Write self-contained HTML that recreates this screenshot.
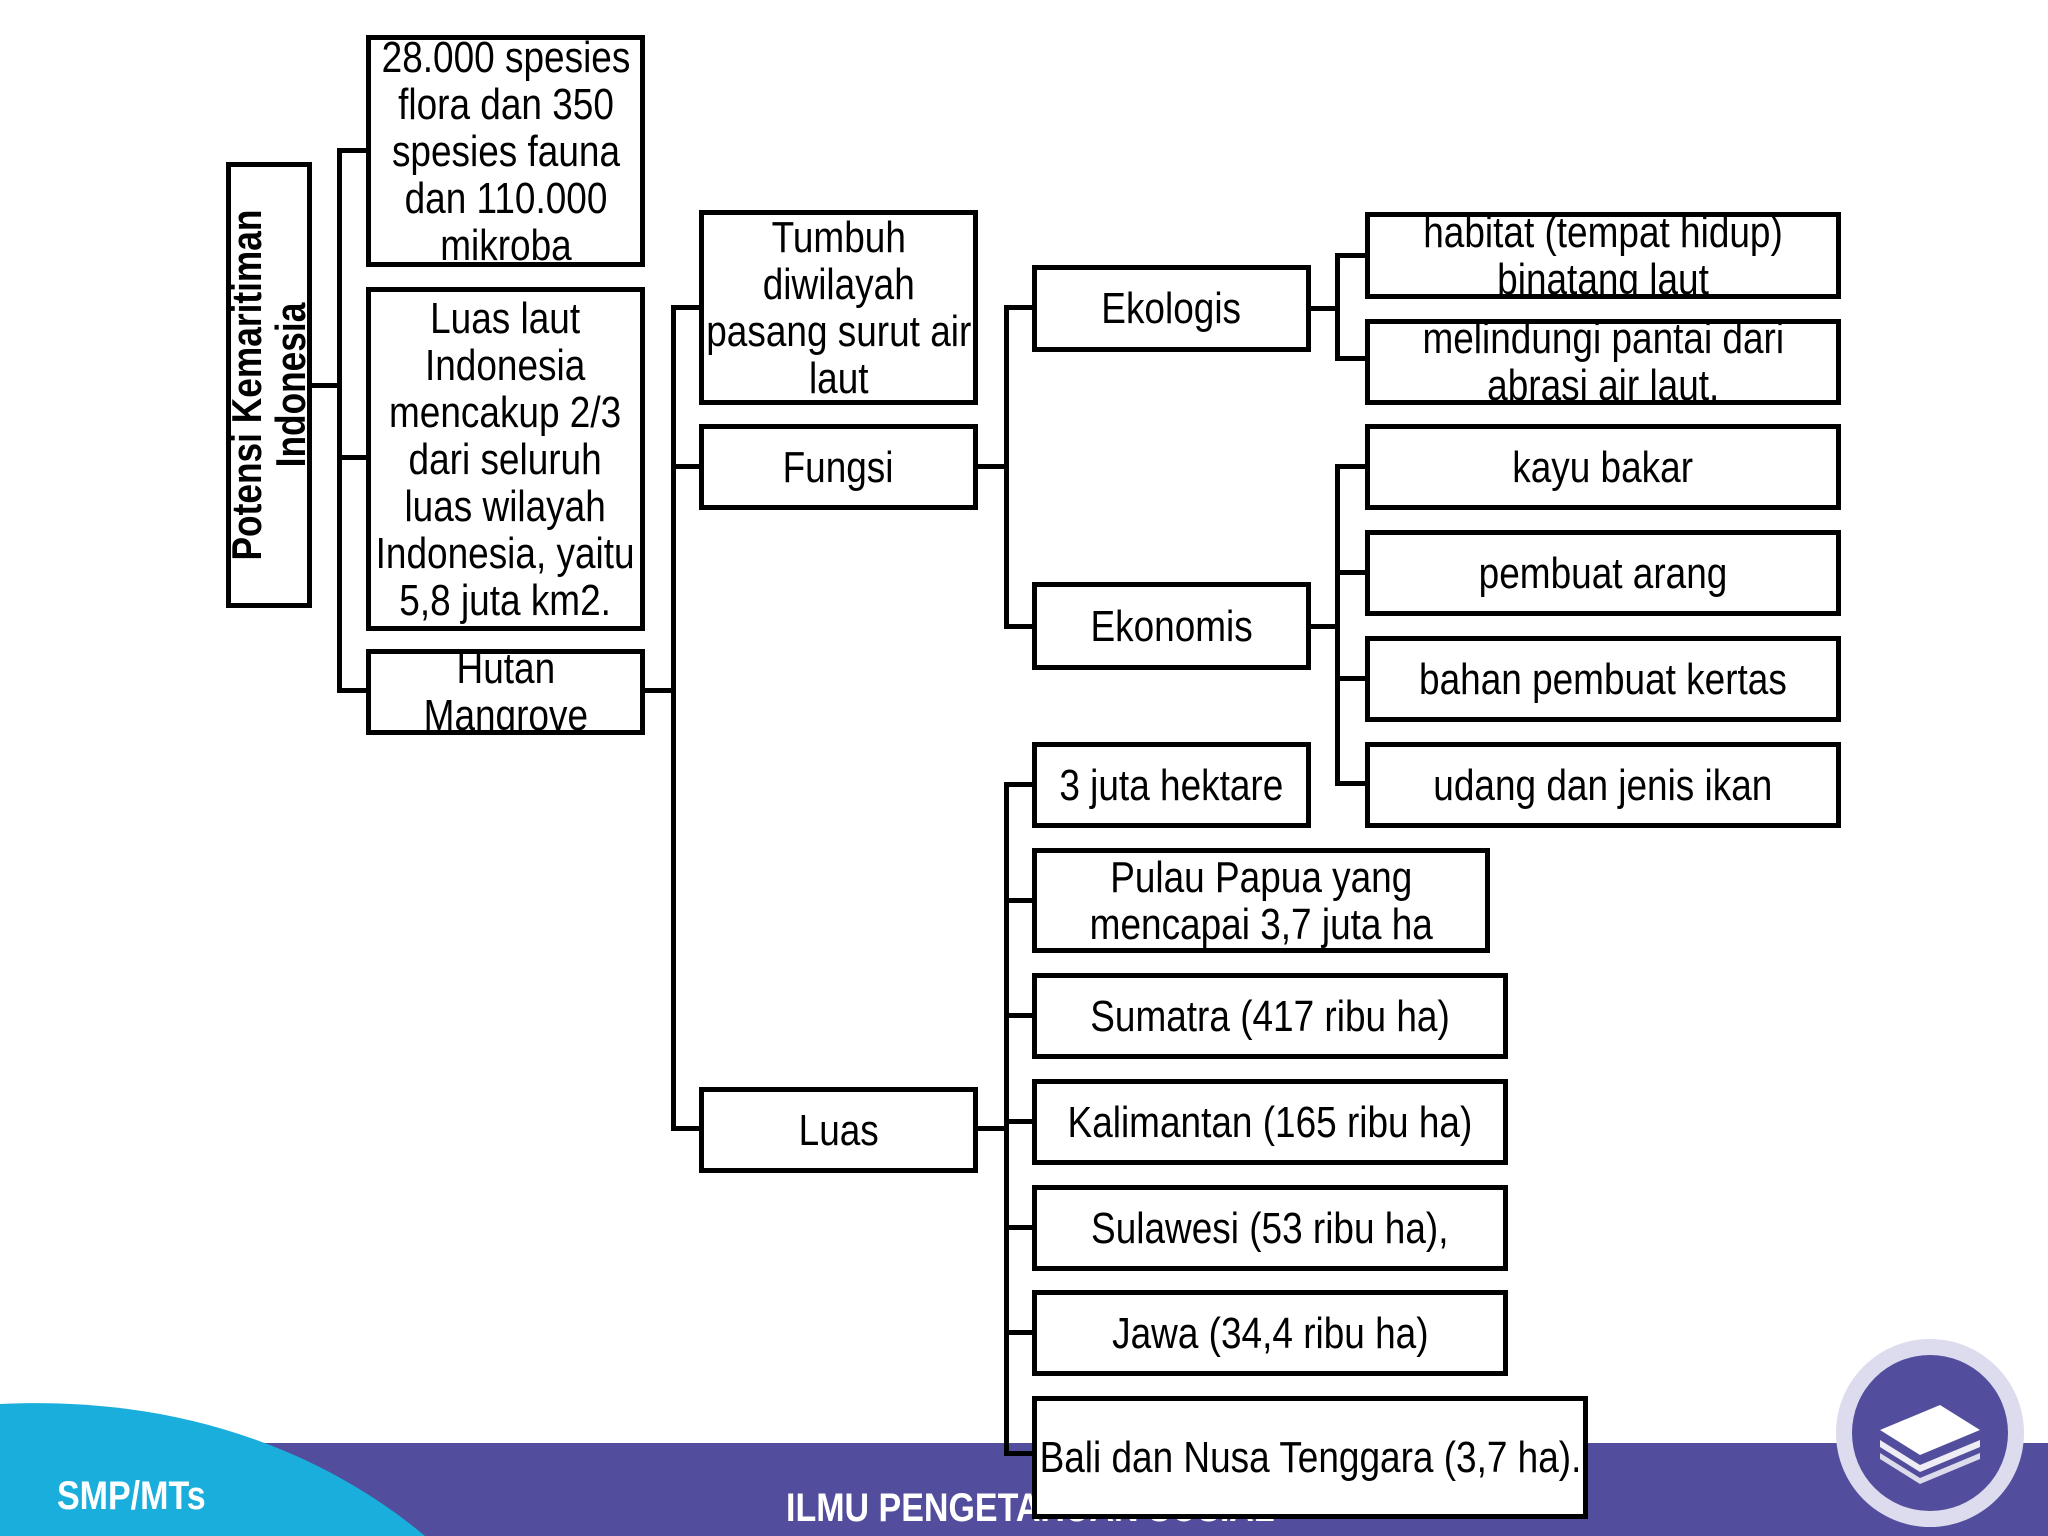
<!DOCTYPE html>
<html style="margin:0;width:2048px;height:1536px;overflow:hidden"><head><meta charset="utf-8"><style>
body{margin:0;width:2048px;height:1536px;overflow:hidden;background:#fff;font-family:"Liberation Sans",Arial,sans-serif}
#w{position:relative;width:2048px;height:1536px;overflow:hidden}
.b{position:absolute;box-sizing:border-box;border:5px solid #000;background:#fff;display:flex;align-items:center;justify-content:center;text-align:center;overflow:hidden;z-index:3}
.b span{display:inline-block;transform:scaleX(.84);font-size:44px;line-height:47px;white-space:nowrap;color:#000}
.l{position:absolute;background:#000;z-index:2}
</style></head><body><div id="w">
<!-- footer -->
<div style="position:absolute;left:0;top:1443px;width:2048px;height:93px;background:#524d9c;z-index:0"></div>
<svg style="position:absolute;left:0;top:1400px;z-index:1" width="440" height="136"><path d="M0,4 C160,-4 310,40 425,136 L0,136 Z" fill="#1aaedc"/></svg>
<div style="position:absolute;left:57px;top:1474px;color:#fff;font-weight:bold;font-size:40px;z-index:1;transform:scaleX(.85);transform-origin:left">SMP/MTs</div>
<div style="position:absolute;left:786px;top:1486px;color:#fff;font-weight:bold;font-size:40px;z-index:1;white-space:nowrap;transform:scaleX(.85);transform-origin:left">ILMU PENGETAHUAN SOSIAL</div>
<div style="position:absolute;left:1836px;top:1339px;width:188px;height:188px;border-radius:50%;background:#dcdcee;z-index:1"></div>
<div style="position:absolute;left:1852px;top:1355px;width:156px;height:156px;border-radius:50%;background:#524d9c;z-index:1"></div>
<svg style="position:absolute;left:1870px;top:1385px;z-index:1" width="120" height="100"><g fill="#fff"><polygon points="10,45 70,20 110,45 50,70"/><polygon points="10,55 50,80 110,55 110,62 50,87 10,62" opacity=".9"/><polygon points="10,68 50,93 110,68 110,74 50,99 10,74" opacity=".8"/></g></svg>
<!-- root -->
<div class="b" style="left:226px;top:162px;width:86px;height:446px"><span style="transform:rotate(-90deg) scaleX(.84);font-weight:bold;font-size:42px;line-height:44px">Potensi Kemaritiman<br>Indonesia</span></div>
<!-- lines -->
<div class="l" style="left:310px;top:383px;width:32px;height:5px"></div>
<div class="l" style="left:337px;top:148px;width:5px;height:545px"></div>
<div class="l" style="left:337px;top:148px;width:32px;height:5px"></div>
<div class="l" style="left:337px;top:455px;width:32px;height:5px"></div>
<div class="l" style="left:337px;top:688px;width:32px;height:5px"></div>
<div class="l" style="left:642px;top:688px;width:34px;height:5px"></div>
<div class="l" style="left:671px;top:305px;width:5px;height:826px"></div>
<div class="l" style="left:671px;top:305px;width:30px;height:5px"></div>
<div class="l" style="left:671px;top:464px;width:30px;height:5px"></div>
<div class="l" style="left:671px;top:1126px;width:30px;height:5px"></div>
<div class="l" style="left:975px;top:464px;width:34px;height:5px"></div>
<div class="l" style="left:1004px;top:305px;width:5px;height:324px"></div>
<div class="l" style="left:1004px;top:305px;width:30px;height:5px"></div>
<div class="l" style="left:1004px;top:624px;width:30px;height:5px"></div>
<div class="l" style="left:1308px;top:306px;width:32px;height:5px"></div>
<div class="l" style="left:1335px;top:253px;width:5px;height:108px"></div>
<div class="l" style="left:1335px;top:253px;width:32px;height:5px"></div>
<div class="l" style="left:1335px;top:356px;width:32px;height:5px"></div>
<div class="l" style="left:1308px;top:624px;width:32px;height:5px"></div>
<div class="l" style="left:1335px;top:464px;width:5px;height:322px"></div>
<div class="l" style="left:1335px;top:464px;width:32px;height:5px"></div>
<div class="l" style="left:1335px;top:570px;width:32px;height:5px"></div>
<div class="l" style="left:1335px;top:676px;width:32px;height:5px"></div>
<div class="l" style="left:1335px;top:781px;width:32px;height:5px"></div>
<div class="l" style="left:975px;top:1126px;width:34px;height:5px"></div>
<div class="l" style="left:1004px;top:782px;width:5px;height:674px"></div>
<div class="l" style="left:1004px;top:782px;width:30px;height:5px"></div>
<div class="l" style="left:1004px;top:898px;width:30px;height:5px"></div>
<div class="l" style="left:1004px;top:1013px;width:30px;height:5px"></div>
<div class="l" style="left:1004px;top:1119px;width:30px;height:5px"></div>
<div class="l" style="left:1004px;top:1225px;width:30px;height:5px"></div>
<div class="l" style="left:1004px;top:1330px;width:30px;height:5px"></div>
<div class="l" style="left:1004px;top:1451px;width:30px;height:5px"></div>
<!-- boxes -->
<div class="b" style="left:366px;top:35px;width:279px;height:232px"><span>28.000 spesies<br>flora dan 350<br>spesies fauna<br>dan 110.000<br>mikroba</span></div>
<div class="b" style="left:366px;top:287px;width:279px;height:344px"><span>Luas laut<br>Indonesia<br>mencakup 2/3<br>dari seluruh<br>luas wilayah<br>Indonesia, yaitu<br>5,8 juta km2.</span></div>
<div class="b" style="left:366px;top:649px;width:279px;height:86px"><span>Hutan<br>Mangrove</span></div>
<div class="b" style="left:699px;top:210px;width:279px;height:195px"><span>Tumbuh<br>diwilayah<br>pasang surut air<br>laut</span></div>
<div class="b" style="left:699px;top:424px;width:279px;height:86px"><span>Fungsi</span></div>
<div class="b" style="left:699px;top:1087px;width:279px;height:86px"><span>Luas</span></div>
<div class="b" style="left:1032px;top:265px;width:279px;height:87px"><span>Ekologis</span></div>
<div class="b" style="left:1032px;top:582px;width:279px;height:88px"><span>Ekonomis</span></div>
<div class="b" style="left:1365px;top:212px;width:476px;height:87px"><span>habitat (tempat hidup)<br>binatang laut</span></div>
<div class="b" style="left:1365px;top:319px;width:476px;height:86px"><span>melindungi pantai dari<br>abrasi air laut.</span></div>
<div class="b" style="left:1365px;top:424px;width:476px;height:86px"><span>kayu bakar</span></div>
<div class="b" style="left:1365px;top:530px;width:476px;height:86px"><span>pembuat arang</span></div>
<div class="b" style="left:1365px;top:636px;width:476px;height:86px"><span>bahan pembuat kertas</span></div>
<div class="b" style="left:1365px;top:742px;width:476px;height:86px"><span>udang dan jenis ikan</span></div>
<div class="b" style="left:1032px;top:742px;width:279px;height:86px"><span>3 juta hektare</span></div>
<div class="b" style="left:1032px;top:848px;width:458px;height:105px"><span>Pulau Papua yang<br>mencapai 3,7 juta ha</span></div>
<div class="b" style="left:1032px;top:973px;width:476px;height:86px"><span>Sumatra (417 ribu ha)</span></div>
<div class="b" style="left:1032px;top:1079px;width:476px;height:86px"><span>Kalimantan (165 ribu ha)</span></div>
<div class="b" style="left:1032px;top:1185px;width:476px;height:86px"><span>Sulawesi (53 ribu ha),</span></div>
<div class="b" style="left:1032px;top:1290px;width:476px;height:86px"><span>Jawa (34,4 ribu ha)</span></div>
<div class="b" style="left:1032px;top:1396px;width:556px;height:123px"><span>Bali dan Nusa Tenggara (3,7 ha).</span></div>
</div></body></html>
